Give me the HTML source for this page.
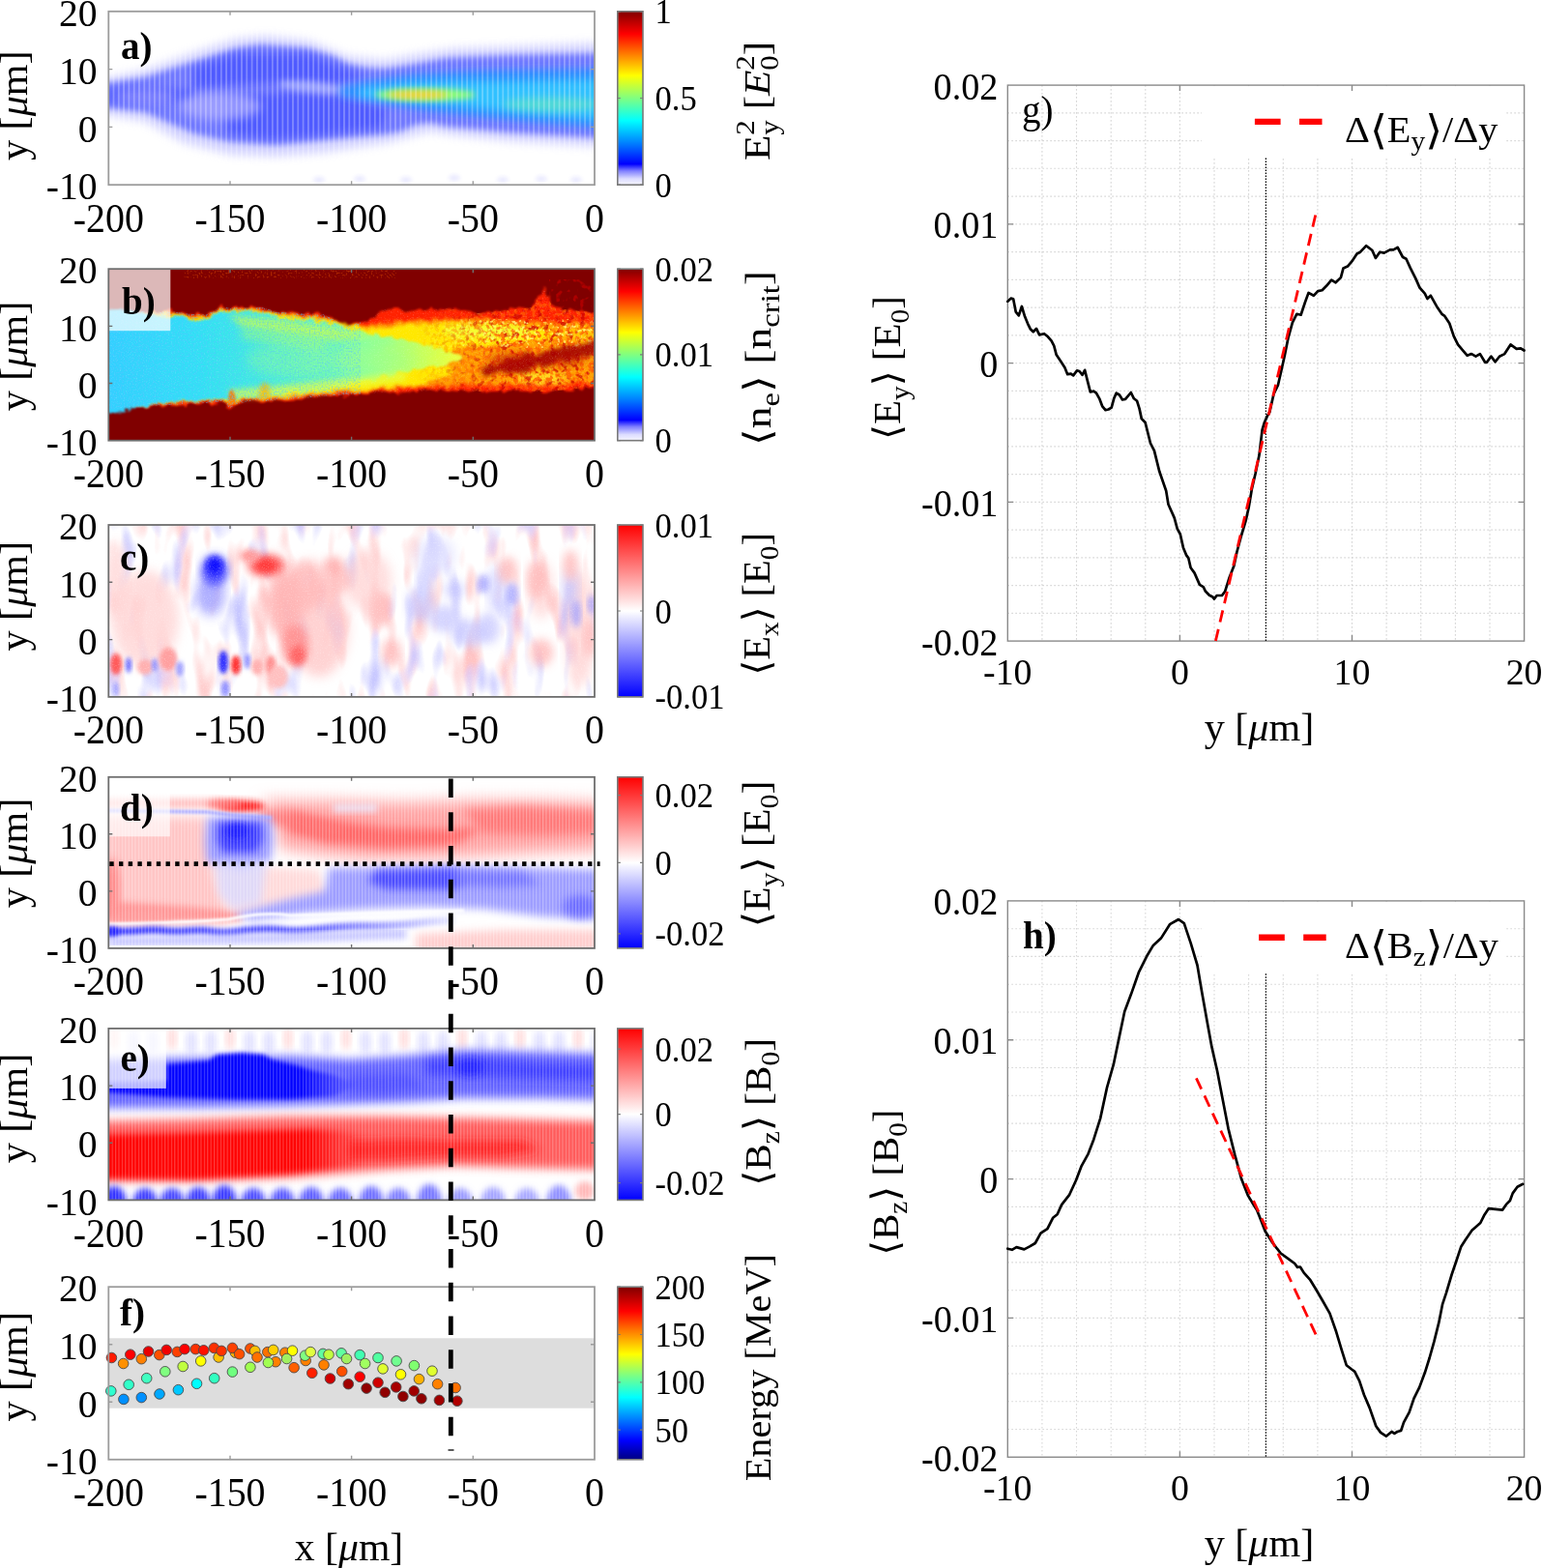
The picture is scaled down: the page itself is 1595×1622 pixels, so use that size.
<!DOCTYPE html>
<html><head><meta charset="utf-8"><style>
html,body{margin:0;padding:0;background:#fff;}
svg{display:block;}
text{font-family:'Liberation Serif','DejaVu Serif',serif;fill:#000;}
</style></head><body>
<svg width="1595" height="1622" viewBox="0 0 1595 1622">
<defs><linearGradient id="gjetw" x1="0" y1="1" x2="0" y2="0"><stop offset="0" stop-color="#f6f6ff"/><stop offset="0.035" stop-color="#dcdcff"/><stop offset="0.08" stop-color="#8080ff"/><stop offset="0.12" stop-color="#0000ff"/><stop offset="0.24" stop-color="#0080ff"/><stop offset="0.37" stop-color="#00ffff"/><stop offset="0.5" stop-color="#80ff80"/><stop offset="0.63" stop-color="#ffff00"/><stop offset="0.75" stop-color="#ff8000"/><stop offset="0.87" stop-color="#ff0000"/><stop offset="1" stop-color="#800000"/></linearGradient><linearGradient id="gbwr" x1="0" y1="1" x2="0" y2="0"><stop offset="0" stop-color="#0000ff"/><stop offset="0.5" stop-color="#ffffff"/><stop offset="1" stop-color="#ff0000"/></linearGradient><linearGradient id="gjet" x1="0" y1="1" x2="0" y2="0"><stop offset="0" stop-color="#000080"/><stop offset="0.11" stop-color="#0000ff"/><stop offset="0.36" stop-color="#00ffff"/><stop offset="0.49" stop-color="#80ff80"/><stop offset="0.61" stop-color="#ffff00"/><stop offset="0.74" stop-color="#ff8000"/><stop offset="0.86" stop-color="#ff0000"/><stop offset="1" stop-color="#800000"/></linearGradient><filter id="bl1" x="-20%" y="-50%" width="140%" height="200%"><feGaussianBlur stdDeviation="1"/></filter><filter id="bl2" x="-20%" y="-50%" width="140%" height="200%"><feGaussianBlur stdDeviation="2"/></filter><filter id="bl3" x="-20%" y="-50%" width="140%" height="200%"><feGaussianBlur stdDeviation="3"/></filter><filter id="bl4" x="-20%" y="-50%" width="140%" height="200%"><feGaussianBlur stdDeviation="4"/></filter><filter id="bl5" x="-20%" y="-50%" width="140%" height="200%"><feGaussianBlur stdDeviation="5"/></filter><filter id="bl6" x="-20%" y="-50%" width="140%" height="200%"><feGaussianBlur stdDeviation="6"/></filter><filter id="bl8" x="-20%" y="-50%" width="140%" height="200%"><feGaussianBlur stdDeviation="8"/></filter><filter id="bl10" x="-20%" y="-50%" width="140%" height="200%"><feGaussianBlur stdDeviation="10"/></filter><clipPath id="cpa"><rect x="112.3" y="11.8" width="502.7" height="179.4"/></clipPath><clipPath id="cpb"><rect x="112.3" y="278.2" width="502.7" height="177.5"/></clipPath><clipPath id="cpc"><rect x="112.3" y="543.0" width="502.7" height="177.9"/></clipPath><clipPath id="cpd"><rect x="112.3" y="803.8" width="502.7" height="177.1"/></clipPath><clipPath id="cpe"><rect x="112.3" y="1063.9" width="502.7" height="177.5"/></clipPath><clipPath id="cpf"><rect x="112.3" y="1331.2" width="502.7" height="178.6"/></clipPath><filter id="grainb" x="0" y="0" width="100%" height="100%"><feTurbulence type="fractalNoise" baseFrequency="0.45" numOctaves="2" seed="7"/><feColorMatrix type="matrix" values="0 0 0 0 0.5 0 0 0 0 0 0 0 0 0 0 4 0 0 0 -2.1"/></filter><filter id="grainy" x="0" y="0" width="100%" height="100%"><feTurbulence type="fractalNoise" baseFrequency="0.5" numOctaves="2" seed="11"/><feColorMatrix type="matrix" values="0 0 0 0 1 0 0 0 0 0.95 0 0 0 0 0.1 4 0 0 0 -2.2"/></filter><filter id="grainr" x="0" y="0" width="100%" height="100%"><feTurbulence type="fractalNoise" baseFrequency="0.5" numOctaves="2" seed="3"/><feColorMatrix type="matrix" values="0 0 0 0 1 0 0 0 0 0.15 0 0 0 0 0 4 0 0 0 -2.0"/></filter><filter id="grainw" x="0" y="0" width="100%" height="100%"><feTurbulence type="fractalNoise" baseFrequency="0.7" numOctaves="1" seed="21"/><feColorMatrix type="matrix" values="0 0 0 0 1 0 0 0 0 1 0 0 0 0 1 3 0 0 0 -1.6"/></filter><filter id="rough" x="-5%" y="-20%" width="110%" height="140%"><feTurbulence type="fractalNoise" baseFrequency="0.12" numOctaves="3" seed="4" result="t"/><feDisplacementMap in="SourceGraphic" in2="t" scale="9" xChannelSelector="R" yChannelSelector="G" result="d"/><feGaussianBlur in="d" stdDeviation="0.8"/></filter><filter id="roughb" x="-5%" y="-20%" width="110%" height="140%"><feTurbulence type="fractalNoise" baseFrequency="0.1" numOctaves="3" seed="9" result="t"/><feDisplacementMap in="SourceGraphic" in2="t" scale="12" xChannelSelector="R" yChannelSelector="G" result="d"/><feGaussianBlur in="d" stdDeviation="2"/></filter><pattern id="vstripe" x="0" y="0" width="5.3" height="10" patternUnits="userSpaceOnUse"><rect x="0" y="0" width="1.8" height="10" fill="#fff"/></pattern><pattern id="vstripe2" x="0" y="0" width="3.4" height="10" patternUnits="userSpaceOnUse"><rect x="0" y="0" width="1.2" height="10" fill="#fff"/></pattern><clipPath id="cpbplume"><path d="M100.0 322.0 L174.0 322.0 L200.0 325.0 L214.0 325.0 L228.0 318.0 L272.0 318.0 L289.0 323.0 L334.0 325.0 L359.0 337.0 L382.0 331.0 L398.0 319.0 L430.0 322.0 L462.0 319.0 L494.0 324.0 L526.0 321.0 L550.0 318.0 L558.0 306.0 L563.0 298.0 L567.0 308.0 L572.0 318.0 L590.0 321.0 L625.0 324.0 L625.0 398.0 L590.0 403.0 L560.0 405.0 L526.0 403.0 L494.0 405.0 L462.0 403.0 L430.0 405.0 L398.0 406.0 L334.0 410.0 L275.0 415.0 L262.0 414.0 L245.0 418.0 L238.0 423.0 L232.0 416.0 L174.0 419.0 L100.0 424.0Z" fill="#000" /></clipPath><linearGradient id="fadeR" x1="430" y1="0" x2="520" y2="0" gradientUnits="userSpaceOnUse"><stop offset="0" stop-color="#000"/><stop offset="1" stop-color="#fff"/></linearGradient><mask id="mright" maskUnits="userSpaceOnUse" x="100" y="270" width="530" height="200"><rect x="100" y="270" width="530" height="200" fill="url(#fadeR)"/></mask><filter id="mottR" x="0" y="0" width="100%" height="100%"><feTurbulence type="fractalNoise" baseFrequency="0.22" numOctaves="2" seed="3"/><feColorMatrix type="matrix" values="0 0 0 0 1 0 0 0 0 0.1 0 0 0 0 0 5 0 0 0 -2.2"/></filter><filter id="mottD" x="0" y="0" width="100%" height="100%"><feTurbulence type="fractalNoise" baseFrequency="0.16" numOctaves="2" seed="8"/><feColorMatrix type="matrix" values="0 0 0 0 0.6 0 0 0 0 0 0 0 0 0 0 6 0 0 0 -3.4"/></filter><filter id="mottY" x="0" y="0" width="100%" height="100%"><feTurbulence type="fractalNoise" baseFrequency="0.25" numOctaves="2" seed="13"/><feColorMatrix type="matrix" values="0 0 0 0 1 0 0 0 0 1 0 0 0 0 0.2 5 0 0 0 -2.8"/></filter><linearGradient id="bcore" x1="112" y1="0" x2="470" y2="0" gradientUnits="userSpaceOnUse"><stop offset="0" stop-color="#30d0ff"/><stop offset="0.25" stop-color="#30e0f6"/><stop offset="0.5" stop-color="#48eed8"/><stop offset="0.75" stop-color="#88ffa0"/><stop offset="0.9" stop-color="#c4ff60"/><stop offset="1" stop-color="#e8ff40"/></linearGradient><filter id="grainb2" x="0" y="0" width="100%" height="100%"><feTurbulence type="fractalNoise" baseFrequency="0.6" numOctaves="1" seed="17"/><feColorMatrix type="matrix" values="0 0 0 0 0.1 0 0 0 0 0.55 0 0 0 0 1 4.5 0 0 0 -2.1"/></filter><filter id="texRB" x="0" y="0" width="100%" height="100%"><feTurbulence type="fractalNoise" baseFrequency="0.05 0.018" numOctaves="2" seed="2" result="t"/><feColorMatrix in="t" type="matrix" values="0 0 0 0 1 0 0 0 0 0.3 0 0 0 0 0.3 3.2 0 0 0 -1.6" result="r"/><feColorMatrix in="t" type="matrix" values="0 0 0 0 0.3 0 0 0 0 0.3 0 0 0 0 1 0 3.2 0 0 -1.75" result="bb"/><feMerge><feMergeNode in="r"/><feMergeNode in="bb"/></feMerge></filter><linearGradient id="dline" x1="112" y1="0" x2="470" y2="0" gradientUnits="userSpaceOnUse"><stop offset="0" stop-color="#3a3aff"/><stop offset="0.55" stop-color="#5a5aff"/><stop offset="0.8" stop-color="#a0a0ff"/><stop offset="1" stop-color="#e8e8ff"/></linearGradient><linearGradient id="eblue" x1="100" y1="0" x2="370" y2="0" gradientUnits="userSpaceOnUse"><stop offset="0" stop-color="#0000ff"/><stop offset="0.78" stop-color="#0000ff"/><stop offset="1" stop-color="#0000ff" stop-opacity="0"/></linearGradient><linearGradient id="ered" x1="100" y1="0" x2="380" y2="0" gradientUnits="userSpaceOnUse"><stop offset="0" stop-color="#ff0000"/><stop offset="0.78" stop-color="#ff0000"/><stop offset="1" stop-color="#ff0000" stop-opacity="0"/></linearGradient></defs>
<rect width="1595" height="1622" fill="#fff"/>
<g clip-path="url(#cpa)"><path d="M105.0 82.0 L150.0 72.0 L206.0 52.0 L244.0 40.0 L275.0 37.0 L320.0 42.0 L360.0 58.0 L398.0 62.0 L430.0 56.0 L470.0 50.0 L526.0 48.0 L622.0 44.0 L622.0 152.0 L526.0 146.0 L470.0 140.0 L445.0 136.0 L430.0 140.0 L400.0 148.0 L334.0 158.0 L286.0 162.0 L238.0 160.0 L190.0 148.0 L150.0 126.0 L105.0 118.0Z" fill="#c4c4ff" filter="url(#bl5)" opacity="0.75"/><path d="M105.0 87.0 L150.0 80.0 L180.0 70.0 L206.0 62.0 L244.0 50.0 L270.0 46.0 L318.0 50.0 L345.0 58.0 L360.0 66.0 L380.0 70.0 L398.0 71.0 L430.0 66.0 L462.0 60.0 L526.0 57.0 L622.0 55.0 L622.0 143.0 L526.0 137.0 L462.0 131.0 L445.0 127.0 L430.0 129.0 L414.0 136.0 L398.0 139.0 L366.0 142.0 L334.0 145.0 L286.0 150.0 L238.0 147.0 L200.0 138.0 L170.0 125.0 L150.0 116.0 L105.0 111.0Z" fill="#7078ff" filter="url(#bl3)"/><path d="M200.0 70.0 L244.0 56.0 L318.0 56.0 L360.0 72.0 L380.0 80.0 L350.0 86.0 L300.0 84.0 L240.0 88.0 L200.0 92.0Z" fill="#4a55ff" filter="url(#bl4)" opacity="0.85"/><path d="M230.0 100.0 L300.0 96.0 L360.0 100.0 L400.0 112.0 L395.0 132.0 L330.0 140.0 L280.0 144.0 L235.0 138.0Z" fill="#4a55ff" filter="url(#bl4)" opacity="0.85"/><path d="M112.0 92.0 L160.0 90.0 L200.0 92.0 L200.0 104.0 L160.0 106.0 L112.0 106.0Z" fill="#5862ff" filter="url(#bl3)" opacity="0.8"/><path d="M290.0 84.0 L320.0 84.0 L345.0 88.0 L365.0 94.0 L340.0 97.0 L310.0 94.0 L290.0 90.0Z" fill="#a8b0ff" filter="url(#bl3)" opacity="0.8"/><ellipse cx="228" cy="110" rx="42" ry="14" fill="#a8a8ff" filter="url(#bl5)" opacity="0.75"/><ellipse cx="150" cy="100" rx="30" ry="8" fill="#9a9aff" filter="url(#bl4)" opacity="0.5"/><path d="M352.0 90.0 L380.0 84.0 L430.0 77.0 L500.0 73.0 L560.0 72.0 L622.0 71.0 L622.0 132.0 L560.0 127.0 L500.0 121.0 L440.0 114.0 L380.0 104.0 L352.0 100.0Z" fill="#2a90ff" filter="url(#bl4)"/><path d="M372.0 92.0 L420.0 86.0 L470.0 84.0 L530.0 84.0 L622.0 82.0 L622.0 124.0 L540.0 117.0 L470.0 109.0 L420.0 104.0 L372.0 100.0Z" fill="#30d0ff" filter="url(#bl4)" opacity="0.75"/><ellipse cx="440" cy="98" rx="52" ry="6.5" fill="#90ff70" filter="url(#bl3)"/><ellipse cx="432" cy="98" rx="32" ry="4.2" fill="#ffc830" filter="url(#bl3)" opacity="0.9"/><ellipse cx="570" cy="108" rx="50" ry="7" fill="#70f0b0" filter="url(#bl4)" opacity="0.55"/><rect x="112.3" y="11.8" width="502.7" height="179.4" fill="url(#vstripe)" opacity="0.28"/><ellipse cx="330" cy="186" rx="6" ry="3" fill="#d8d8ff" filter="url(#bl2)" opacity="0.6"/><ellipse cx="372" cy="185" rx="6" ry="3" fill="#d8d8ff" filter="url(#bl2)" opacity="0.6"/><ellipse cx="420" cy="186" rx="6" ry="3" fill="#d8d8ff" filter="url(#bl2)" opacity="0.6"/><ellipse cx="470" cy="184" rx="6" ry="3" fill="#d8d8ff" filter="url(#bl2)" opacity="0.6"/><ellipse cx="520" cy="186" rx="6" ry="3" fill="#d8d8ff" filter="url(#bl2)" opacity="0.6"/><ellipse cx="560" cy="185" rx="6" ry="3" fill="#d8d8ff" filter="url(#bl2)" opacity="0.6"/><ellipse cx="596" cy="186" rx="6" ry="3" fill="#d8d8ff" filter="url(#bl2)" opacity="0.6"/></g><g clip-path="url(#cpb)"><rect x="112.3" y="278.2" width="502.7" height="177.5" fill="#800000"/><g filter="url(#rough)"><path d="M100.0 322.0 L174.0 322.0 L200.0 325.0 L214.0 325.0 L228.0 318.0 L272.0 318.0 L289.0 323.0 L334.0 325.0 L359.0 337.0 L382.0 331.0 L398.0 319.0 L430.0 322.0 L462.0 319.0 L494.0 324.0 L526.0 321.0 L550.0 318.0 L558.0 306.0 L563.0 298.0 L567.0 308.0 L572.0 318.0 L590.0 321.0 L625.0 324.0 L625.0 398.0 L590.0 403.0 L560.0 405.0 L526.0 403.0 L494.0 405.0 L462.0 403.0 L430.0 405.0 L398.0 406.0 L334.0 410.0 L275.0 415.0 L262.0 414.0 L245.0 418.0 L238.0 423.0 L232.0 416.0 L174.0 419.0 L100.0 424.0Z" fill="#ff2200" /><path d="M100.0 324.0 L174.0 324.0 L200.0 327.0 L214.0 327.0 L228.0 320.0 L272.0 320.0 L289.0 325.0 L334.0 328.0 L359.0 340.0 L382.0 336.0 L420.0 332.0 L470.0 330.0 L530.0 332.0 L625.0 336.0 L625.0 394.0 L560.0 398.0 L500.0 398.0 L440.0 400.0 L398.0 403.0 L334.0 407.0 L275.0 412.0 L262.0 411.0 L245.0 415.0 L238.0 420.0 L232.0 413.0 L174.0 417.0 L100.0 422.0Z" fill="#ffa000" filter="url(#bl1)"/><path d="M100.0 325.0 L174.0 325.0 L200.0 328.0 L214.0 328.0 L228.0 321.0 L272.0 321.0 L289.0 326.0 L334.0 330.0 L380.0 340.0 L430.0 336.0 L470.0 334.0 L545.0 337.0 L590.0 345.0 L560.0 352.0 L520.0 356.0 L470.0 360.0 L455.0 372.0 L470.0 385.0 L440.0 396.0 L398.0 400.0 L334.0 405.0 L275.0 410.0 L262.0 409.0 L245.0 413.0 L238.0 417.0 L232.0 411.0 L174.0 415.0 L100.0 420.0Z" fill="#ffe800" filter="url(#bl1)"/><ellipse cx="505" cy="343" rx="48" ry="7" fill="#f4ff30" filter="url(#bl3)"/><ellipse cx="560" cy="390" rx="25" ry="7" fill="#ffe020" filter="url(#bl3)" opacity="0.9"/><ellipse cx="600" cy="345" rx="18" ry="8" fill="#ffd000" filter="url(#bl3)" opacity="0.8"/></g><g clip-path="url(#cpbplume)"><g mask="url(#mright)"><rect x="420" y="310" width="205" height="100" fill="#fff" filter="url(#mottR)" opacity="0.8"/><rect x="420" y="310" width="205" height="100" fill="#fff" filter="url(#mottD)" opacity="0.7"/><rect x="420" y="330" width="205" height="30" fill="#fff" filter="url(#mottY)" opacity="0.8"/></g></g><path d="M498.0 380.0 L540.0 369.0 L590.0 357.0 L625.0 354.0 L625.0 366.0 L590.0 372.0 L545.0 383.0 L503.0 388.0Z" fill="#a00000" filter="url(#roughb)" opacity="0.85"/><ellipse cx="530" cy="374" rx="24" ry="8" fill="#b00000" filter="url(#bl4)" opacity="0.55"/><ellipse cx="585" cy="372" rx="20" ry="6" fill="#b00000" filter="url(#bl4)" opacity="0.5"/><g filter="url(#rough)"><path d="M100.0 327.0C112.3 311.5 157.3 326.5 174.0 327.0C190.7 327.5 193.3 329.5 200.0 330.0C206.7 330.5 209.3 331.2 214.0 330.0C218.7 328.8 218.3 324.2 228.0 323.0C237.7 321.8 261.8 322.0 272.0 323.0C282.2 324.0 278.7 327.3 289.0 329.0C299.3 330.7 318.8 330.3 334.0 333.0C349.2 335.7 364.0 341.5 380.0 345.0C396.0 348.5 415.8 350.8 430.0 354.0C444.2 357.2 457.0 361.5 465.0 364.0C473.0 366.5 478.0 367.2 478.0 369.0C478.0 370.8 473.0 372.7 465.0 375.0C457.0 377.3 444.2 379.8 430.0 383.0C415.8 386.2 396.0 390.8 380.0 394.0C364.0 397.2 350.7 399.5 334.0 402.0C317.3 404.5 295.7 407.3 280.0 409.0C264.3 410.7 257.7 410.8 240.0 412.0C222.3 413.2 197.3 414.7 174.0 416.0C150.7 417.3 112.3 434.8 100.0 420.0C87.7 405.2 87.7 342.5 100.0 327.0Z" fill="url(#bcore)" /></g><path d="M236.0 326.0 L290.0 330.0 L340.0 338.0 L392.0 348.0 L350.0 352.0 L300.0 346.0 L250.0 338.0Z" fill="#c8ff50" filter="url(#bl3)" opacity="0.75"/><path d="M250.0 340.0 L300.0 345.0 L345.0 352.0 L330.0 362.0 L290.0 356.0 L250.0 350.0Z" fill="#a8ff70" filter="url(#bl4)" opacity="0.6"/><path d="M236.0 404.0 L300.0 398.0 L360.0 392.0 L420.0 384.0 L420.0 394.0 L360.0 402.0 L300.0 409.0 L240.0 412.0Z" fill="#e8ff40" filter="url(#bl3)" opacity="0.8"/><ellipse cx="300" cy="372" rx="45" ry="18" fill="#98ff90" filter="url(#bl6)" opacity="0.4"/><ellipse cx="385" cy="372" rx="40" ry="15" fill="#a8ff80" filter="url(#bl6)" opacity="0.45"/><path d="M235.0 418.0 L237.0 406.0 L240.0 402.0 L243.0 408.0 L245.0 418.0Z" fill="#ff7000" filter="url(#bl1)" opacity="0.8"/><path d="M267.0 414.0 L269.0 400.0 L273.0 395.0 L278.0 398.0 L280.0 412.0Z" fill="#ffb000" filter="url(#bl2)" opacity="0.7"/><g clip-path="url(#cpbplume)"><rect x="112.3" y="278.2" width="502.7" height="177.5" fill="#fff" filter="url(#grainw)" opacity="0.2"/><rect x="112.3" y="278.2" width="260" height="177.5" fill="#fff" filter="url(#grainb2)" opacity="0.45"/></g><ellipse cx="300" cy="283" rx="110" ry="5" fill="#fff" filter="url(#grainr)" opacity="0.35"/><ellipse cx="590" cy="305" rx="22" ry="16" fill="#fff" filter="url(#mottD)" opacity="0.6"/></g><rect x="112.3" y="278.2" width="64" height="64" fill="#fff" opacity="0.72"/><g clip-path="url(#cpc)"><rect x="112.3" y="543.0" width="502.7" height="177.9" fill="#fff" filter="url(#texRB)" opacity="0.55"/><ellipse cx="150" cy="640" rx="35" ry="50" fill="#ffd4d4" filter="url(#bl6)" opacity="0.8"/><ellipse cx="330" cy="650" rx="30" ry="50" fill="#ffc8c8" filter="url(#bl6)" opacity="0.8"/><ellipse cx="380" cy="600" rx="25" ry="30" fill="#ffd0d0" filter="url(#bl6)" opacity="0.7"/><ellipse cx="120" cy="600" rx="12" ry="40" fill="#ffd0d0" filter="url(#bl6)" opacity="0.7"/><ellipse cx="600" cy="650" rx="15" ry="60" fill="#ffcccc" filter="url(#bl6)" opacity="0.7"/><ellipse cx="560" cy="610" rx="12" ry="30" fill="#ffc8c8" filter="url(#bl6)" opacity="0.6"/><ellipse cx="450" cy="575" rx="20" ry="20" fill="#d8d8ff" filter="url(#bl6)" opacity="0.6"/><ellipse cx="515" cy="610" rx="10" ry="25" fill="#c8c8ff" filter="url(#bl6)" opacity="0.7"/><ellipse cx="590" cy="610" rx="8" ry="20" fill="#c0c0ff" filter="url(#bl6)" opacity="0.7"/><ellipse cx="295" cy="625" rx="20" ry="35" fill="#ffb0b0" filter="url(#bl6)" opacity="0.9"/><ellipse cx="320" cy="605" rx="22" ry="25" fill="#ffb8b8" filter="url(#bl6)" opacity="0.8"/><ellipse cx="305" cy="668" rx="14" ry="22" fill="#ff9090" filter="url(#bl4)" opacity="0.9"/><ellipse cx="308" cy="678" rx="8" ry="10" fill="#ff6060" filter="url(#bl3)" opacity="0.9"/><ellipse cx="350" cy="600" rx="14" ry="14" fill="#ffc0c0" filter="url(#bl4)" opacity="0.8"/><ellipse cx="345" cy="585" rx="10" ry="10" fill="#ffa8a8" filter="url(#bl4)" opacity="0.8"/><ellipse cx="218" cy="615" rx="15" ry="22" fill="#a8a8ff" filter="url(#bl6)" opacity="0.9"/><ellipse cx="222" cy="590" rx="14" ry="16" fill="#5050ff" filter="url(#bl4)" opacity="1"/><ellipse cx="222" cy="585" rx="8" ry="9" fill="#1010ff" filter="url(#bl3)" opacity="1"/><ellipse cx="276" cy="585" rx="20" ry="12" fill="#ff7070" filter="url(#bl4)" opacity="1"/><ellipse cx="275" cy="585" rx="11" ry="7" fill="#ff3a3a" filter="url(#bl3)" opacity="1"/><ellipse cx="258" cy="575" rx="10" ry="7" fill="#ff9a9a" filter="url(#bl3)" opacity="1"/><ellipse cx="120" cy="687" rx="6" ry="11" fill="#ff5a5a" filter="url(#bl2)" opacity="1"/><ellipse cx="133" cy="688" rx="3" ry="8" fill="#6a6aff" filter="url(#bl2)" opacity="1"/><ellipse cx="150" cy="690" rx="8" ry="8" fill="#ffb0b0" filter="url(#bl2)" opacity="1"/><ellipse cx="160" cy="688" rx="3" ry="7" fill="#9090ff" filter="url(#bl2)" opacity="1"/><ellipse cx="174" cy="682" rx="9" ry="12" fill="#ffa0a0" filter="url(#bl2)" opacity="1"/><ellipse cx="186" cy="692" rx="4" ry="8" fill="#a0a0ff" filter="url(#bl2)" opacity="1"/><ellipse cx="231" cy="685" rx="5" ry="12" fill="#3030ff" filter="url(#bl2)" opacity="1"/><ellipse cx="244" cy="688" rx="5" ry="10" fill="#ff3030" filter="url(#bl2)" opacity="1"/><ellipse cx="256" cy="684" rx="3" ry="8" fill="#8a8aff" filter="url(#bl2)" opacity="1"/><ellipse cx="266" cy="690" rx="6" ry="8" fill="#ffb0b0" filter="url(#bl2)" opacity="1"/><ellipse cx="280" cy="688" rx="5" ry="10" fill="#ff9090" filter="url(#bl2)" opacity="1"/><ellipse cx="120" cy="713" rx="3" ry="8" fill="#a0a0ff" filter="url(#bl2)" opacity="1"/><ellipse cx="233" cy="712" rx="4" ry="8" fill="#9090ff" filter="url(#bl2)" opacity="1"/><ellipse cx="288" cy="700" rx="10" ry="12" fill="#ffc0c0" filter="url(#bl2)" opacity="1"/><ellipse cx="435" cy="625" rx="14" ry="18" fill="#c4c4ff" filter="url(#bl5)" opacity="0.7"/><ellipse cx="460" cy="640" rx="16" ry="14" fill="#c4c4ff" filter="url(#bl5)" opacity="0.7"/><ellipse cx="485" cy="655" rx="18" ry="14" fill="#c4c4ff" filter="url(#bl5)" opacity="0.7"/><ellipse cx="505" cy="650" rx="12" ry="16" fill="#c4c4ff" filter="url(#bl5)" opacity="0.7"/><ellipse cx="440" cy="600" rx="8" ry="14" fill="#c4c4ff" filter="url(#bl5)" opacity="0.7"/><ellipse cx="470" cy="610" rx="10" ry="10" fill="#c4c4ff" filter="url(#bl5)" opacity="0.7"/><ellipse cx="555" cy="600" rx="10" ry="20" fill="#ffb8b8" filter="url(#bl5)" opacity="0.8"/><ellipse cx="590" cy="585" rx="8" ry="16" fill="#ffb8b8" filter="url(#bl5)" opacity="0.8"/><ellipse cx="610" cy="660" rx="6" ry="20" fill="#ffb8b8" filter="url(#bl5)" opacity="0.8"/><ellipse cx="395" cy="630" rx="10" ry="18" fill="#ffb8b8" filter="url(#bl5)" opacity="0.8"/><ellipse cx="405" cy="675" rx="10" ry="15" fill="#ffb8b8" filter="url(#bl5)" opacity="0.8"/><ellipse cx="560" cy="675" rx="12" ry="14" fill="#ffb8b8" filter="url(#bl5)" opacity="0.8"/><ellipse cx="525" cy="590" rx="10" ry="14" fill="#ffb8b8" filter="url(#bl5)" opacity="0.8"/><ellipse cx="530" cy="615" rx="6" ry="12" fill="#a0a0ff" filter="url(#bl3)" opacity="0.8"/><ellipse cx="500" cy="604" rx="6" ry="10" fill="#a0a0ff" filter="url(#bl3)" opacity="0.8"/><ellipse cx="596" cy="635" rx="5" ry="14" fill="#a0a0ff" filter="url(#bl3)" opacity="0.8"/><ellipse cx="612" cy="625" rx="4" ry="10" fill="#a0a0ff" filter="url(#bl3)" opacity="0.8"/><rect x="112.3" y="543.0" width="502.7" height="177.9" fill="#fff" filter="url(#grainw)" opacity="0.3"/></g><g clip-path="url(#cpd)"><path d="M105.0 843.0 L214.0 845.0 L225.0 890.0 L240.0 940.0 L235.0 955.0 L105.0 958.0Z" fill="#ffc4c4" filter="url(#bl6)"/><path d="M214.0 890.0 L250.0 895.0 L330.0 900.0 L340.0 930.0 L250.0 945.0 L230.0 940.0Z" fill="#ffdada" filter="url(#bl4)"/><ellipse cx="116" cy="920" rx="8" ry="32" fill="#ff8080" filter="url(#bl4)" opacity="0.9"/><path d="M112.0 932.0 L200.0 938.0 L250.0 944.0 L250.0 953.0 L200.0 953.0 L112.0 955.0Z" fill="#ff8c8c" filter="url(#bl3)" opacity="0.85"/><ellipse cx="150" cy="948" rx="30" ry="6" fill="#ff9a9a" filter="url(#bl3)" opacity="0.8"/><path d="M105.0 826.0 L230.0 826.0 L230.0 836.0 L105.0 836.0Z" fill="#ffc0c0" filter="url(#bl3)"/><path d="M270.0 828.0 L340.0 828.0 L420.0 830.0 L500.0 828.0 L560.0 828.0 L625.0 830.0 L625.0 880.0 L560.0 882.0 L500.0 885.0 L440.0 889.0 L380.0 889.0 L330.0 884.0 L290.0 878.0 L282.0 845.0Z" fill="#ffa0a0" filter="url(#bl8)"/><path d="M300.0 840.0 L340.0 848.0 L400.0 856.0 L460.0 858.0 L500.0 856.0 L470.0 874.0 L400.0 878.0 L340.0 872.0 L300.0 860.0Z" fill="#ff5a5a" filter="url(#bl5)" opacity="0.85"/><path d="M480.0 838.0 L540.0 834.0 L600.0 838.0 L625.0 840.0 L625.0 862.0 L560.0 864.0 L500.0 862.0Z" fill="#ff6a6a" filter="url(#bl5)" opacity="0.75"/><path d="M345.0 832.0 L390.0 832.0 L390.0 840.0 L345.0 840.0Z" fill="#e8e8ff" filter="url(#bl3)" opacity="0.8"/><path d="M265.0 836.0 L300.0 840.0 L340.0 850.0 L360.0 858.0 L340.0 866.0 L300.0 858.0 L270.0 848.0Z" fill="#ff7070" filter="url(#bl5)" opacity="0.8"/><ellipse cx="250" cy="834" rx="24" ry="6" fill="#ff1a1a" filter="url(#bl3)" opacity="1"/><ellipse cx="232" cy="832" rx="18" ry="5" fill="#ff7070" filter="url(#bl3)" opacity="0.9"/><path d="M112 838.5 L214 840 L240 843 L281 846" stroke="#b4b4ff" stroke-width="4" fill="none" filter="url(#bl1)"/><path d="M214.0 846.0 L281.0 846.0 L283.0 870.0 L280.0 890.0 L250.0 900.0 L214.0 892.0 L212.0 870.0Z" fill="#9a9aff" filter="url(#bl4)"/><path d="M225.0 850.0 L270.0 850.0 L272.0 868.0 L265.0 882.0 L230.0 882.0 L224.0 868.0Z" fill="#3a3aff" filter="url(#bl4)"/><ellipse cx="245" cy="860" rx="12" ry="8" fill="#1a1aff" filter="url(#bl3)" opacity="1"/><path d="M222.0 892.0 L276.0 892.0 L270.0 935.0 L240.0 940.0 L226.0 925.0Z" fill="#d8d8ff" filter="url(#bl4)" opacity="0.8"/><path d="M240.0 946.0 L300.0 930.0 L336.0 922.0 L340.0 898.0 L420.0 897.0 L480.0 896.0 L560.0 898.0 L625.0 900.0 L625.0 952.0 L560.0 948.0 L500.0 940.0 L440.0 938.0 L380.0 940.0 L320.0 944.0 L260.0 952.0Z" fill="#9c9cff" filter="url(#bl4)"/><path d="M390.0 900.0 L470.0 898.0 L480.0 912.0 L470.0 920.0 L400.0 920.0 L380.0 912.0Z" fill="#4a4aff" filter="url(#bl4)"/><path d="M470.0 900.0 L540.0 902.0 L560.0 915.0 L520.0 918.0 L470.0 916.0Z" fill="#6a6aff" filter="url(#bl4)" opacity="0.8"/><ellipse cx="600" cy="938" rx="18" ry="12" fill="#6060ff" filter="url(#bl4)" opacity="0.8"/><path d="M112 956 C160 955 200 954 236 951 C262 945 280 944 300 947 C350 946 400 944 480 942" stroke="#fff" stroke-width="3" fill="none" filter="url(#bl1)"/><path d="M112 963 C140 966 150 960 170 963 S200 960 220 964 S260 958 290 962 S340 957 380 958 S440 952 470 952" stroke="url(#dline)" stroke-width="8" fill="none" filter="url(#bl2)"/><path d="M112 974 C200 974 300 970 420 966" stroke="#c4c4ff" stroke-width="10" fill="none" filter="url(#bl3)"/><ellipse cx="116" cy="964" rx="8" ry="5" fill="#2020ff" filter="url(#bl2)" opacity="0.9"/><path d="M430.0 966.0 L520.0 962.0 L625.0 962.0 L625.0 985.0 L430.0 985.0Z" fill="#ffcece" filter="url(#bl4)"/><rect x="112.3" y="803.8" width="502.7" height="177.1" fill="url(#vstripe2)" opacity="0.3"/></g><rect x="112.3" y="803.8" width="63.5" height="61.5" fill="#fff" opacity="0.65"/><g clip-path="url(#cpe)"><ellipse cx="118" cy="1074" rx="5" ry="12" fill="#ffd4d4" filter="url(#bl3)" opacity="0.8"/><ellipse cx="138" cy="1078" rx="6" ry="12" fill="#d4d4ff" filter="url(#bl3)" opacity="0.7"/><ellipse cx="158" cy="1078" rx="6" ry="12" fill="#d4d4ff" filter="url(#bl3)" opacity="0.7"/><ellipse cx="178" cy="1074" rx="5" ry="12" fill="#ffd4d4" filter="url(#bl3)" opacity="0.8"/><ellipse cx="198" cy="1078" rx="6" ry="12" fill="#d4d4ff" filter="url(#bl3)" opacity="0.7"/><ellipse cx="218" cy="1078" rx="6" ry="12" fill="#d4d4ff" filter="url(#bl3)" opacity="0.7"/><ellipse cx="238" cy="1074" rx="5" ry="12" fill="#ffd4d4" filter="url(#bl3)" opacity="0.8"/><ellipse cx="258" cy="1078" rx="6" ry="12" fill="#d4d4ff" filter="url(#bl3)" opacity="0.7"/><ellipse cx="278" cy="1078" rx="6" ry="12" fill="#d4d4ff" filter="url(#bl3)" opacity="0.7"/><ellipse cx="298" cy="1074" rx="5" ry="12" fill="#ffd4d4" filter="url(#bl3)" opacity="0.8"/><ellipse cx="318" cy="1078" rx="6" ry="12" fill="#d4d4ff" filter="url(#bl3)" opacity="0.7"/><ellipse cx="338" cy="1078" rx="6" ry="12" fill="#d4d4ff" filter="url(#bl3)" opacity="0.7"/><ellipse cx="358" cy="1074" rx="5" ry="12" fill="#ffd4d4" filter="url(#bl3)" opacity="0.8"/><ellipse cx="378" cy="1078" rx="6" ry="12" fill="#d4d4ff" filter="url(#bl3)" opacity="0.7"/><ellipse cx="398" cy="1078" rx="6" ry="12" fill="#d4d4ff" filter="url(#bl3)" opacity="0.7"/><ellipse cx="418" cy="1074" rx="5" ry="12" fill="#ffd4d4" filter="url(#bl3)" opacity="0.8"/><ellipse cx="438" cy="1078" rx="6" ry="12" fill="#d4d4ff" filter="url(#bl3)" opacity="0.7"/><ellipse cx="458" cy="1078" rx="6" ry="12" fill="#d4d4ff" filter="url(#bl3)" opacity="0.7"/><ellipse cx="478" cy="1074" rx="5" ry="12" fill="#ffd4d4" filter="url(#bl3)" opacity="0.8"/><ellipse cx="498" cy="1078" rx="6" ry="12" fill="#d4d4ff" filter="url(#bl3)" opacity="0.7"/><ellipse cx="518" cy="1078" rx="6" ry="12" fill="#d4d4ff" filter="url(#bl3)" opacity="0.7"/><ellipse cx="538" cy="1074" rx="5" ry="12" fill="#ffd4d4" filter="url(#bl3)" opacity="0.8"/><ellipse cx="558" cy="1078" rx="6" ry="12" fill="#d4d4ff" filter="url(#bl3)" opacity="0.7"/><ellipse cx="578" cy="1078" rx="6" ry="12" fill="#d4d4ff" filter="url(#bl3)" opacity="0.7"/><ellipse cx="598" cy="1074" rx="5" ry="12" fill="#ffd4d4" filter="url(#bl3)" opacity="0.8"/><ellipse cx="618" cy="1078" rx="6" ry="12" fill="#d4d4ff" filter="url(#bl3)" opacity="0.7"/><path d="M105.0 1096.0 L200.0 1094.0 L300.0 1092.0 L360.0 1096.0 L420.0 1092.0 L480.0 1086.0 L560.0 1088.0 L625.0 1090.0 L625.0 1138.0 L560.0 1136.0 L480.0 1136.0 L420.0 1140.0 L360.0 1142.0 L300.0 1144.0 L200.0 1146.0 L105.0 1146.0Z" fill="#6464ff" filter="url(#bl5)"/><path d="M440.0 1096.0 L500.0 1094.0 L560.0 1100.0 L620.0 1102.0 L620.0 1118.0 L560.0 1116.0 L500.0 1114.0 L440.0 1112.0Z" fill="#3434ff" filter="url(#bl5)" opacity="0.8"/><path d="M360.0 1112.0 L420.0 1110.0 L440.0 1125.0 L400.0 1132.0 L360.0 1130.0Z" fill="#4a4aff" filter="url(#bl4)" opacity="0.8"/><ellipse cx="486" cy="1104" rx="14" ry="8" fill="#1a1aff" filter="url(#bl4)" opacity="0.9"/><path d="M100.0 1120.0 L172.0 1118.0 L172.0 1101.0 L216.0 1097.0 L224.0 1091.0 L250.0 1089.0 L273.0 1091.0 L281.0 1096.0 L306.0 1102.0 L322.0 1107.0 L345.0 1112.0 L370.0 1122.0 L345.0 1134.0 L300.0 1137.0 L240.0 1137.0 L172.0 1135.0 L100.0 1129.0Z" fill="url(#eblue)" filter="url(#bl2)"/><path d="M105.0 1160.0 L200.0 1158.0 L300.0 1155.0 L400.0 1155.0 L500.0 1157.0 L625.0 1160.0 L625.0 1210.0 L540.0 1208.0 L470.0 1206.0 L400.0 1210.0 L300.0 1218.0 L200.0 1222.0 L105.0 1222.0Z" fill="#ff5a5a" filter="url(#bl5)"/><path d="M360.0 1180.0 L420.0 1178.0 L460.0 1180.0 L540.0 1180.0 L560.0 1190.0 L520.0 1196.0 L460.0 1196.0 L400.0 1200.0 L360.0 1200.0Z" fill="#ff1c1c" filter="url(#bl5)" opacity="0.9"/><path d="M100.0 1174.0 L200.0 1172.0 L260.0 1170.0 L320.0 1168.0 L380.0 1172.0 L380.0 1205.0 L300.0 1214.0 L200.0 1220.0 L100.0 1219.0Z" fill="url(#ered)" filter="url(#bl3)"/><ellipse cx="118" cy="1245" rx="13" ry="18" fill="#3030ff" filter="url(#bl3)" opacity="1"/><ellipse cx="150" cy="1245" rx="13" ry="16" fill="#4040ff" filter="url(#bl3)" opacity="1"/><ellipse cx="178" cy="1245" rx="13" ry="16" fill="#4848ff" filter="url(#bl3)" opacity="1"/><ellipse cx="205" cy="1245" rx="13" ry="17" fill="#4040ff" filter="url(#bl3)" opacity="1"/><ellipse cx="232" cy="1245" rx="13" ry="19" fill="#3a3aff" filter="url(#bl3)" opacity="1"/><ellipse cx="262" cy="1245" rx="13" ry="16" fill="#5050ff" filter="url(#bl3)" opacity="1"/><ellipse cx="292" cy="1245" rx="13" ry="16" fill="#5a5aff" filter="url(#bl3)" opacity="1"/><ellipse cx="322" cy="1245" rx="13" ry="17" fill="#6060ff" filter="url(#bl3)" opacity="1"/><ellipse cx="352" cy="1245" rx="13" ry="16" fill="#6a6aff" filter="url(#bl3)" opacity="1"/><ellipse cx="384" cy="1245" rx="13" ry="18" fill="#7070ff" filter="url(#bl3)" opacity="1"/><ellipse cx="412" cy="1245" rx="13" ry="16" fill="#8080ff" filter="url(#bl3)" opacity="1"/><ellipse cx="444" cy="1245" rx="13" ry="20" fill="#7878ff" filter="url(#bl3)" opacity="1"/><ellipse cx="476" cy="1245" rx="13" ry="16" fill="#9a9aff" filter="url(#bl3)" opacity="1"/><ellipse cx="510" cy="1245" rx="13" ry="17" fill="#a4a4ff" filter="url(#bl3)" opacity="1"/><ellipse cx="545" cy="1245" rx="13" ry="16" fill="#a8a8ff" filter="url(#bl3)" opacity="1"/><ellipse cx="578" cy="1245" rx="13" ry="19" fill="#9090ff" filter="url(#bl3)" opacity="1"/><ellipse cx="605" cy="1232" rx="10" ry="10" fill="#ffb0b0" filter="url(#bl3)" opacity="0.9"/><rect x="112.3" y="1063.9" width="502.7" height="177.5" fill="url(#vstripe2)" opacity="0.25"/></g><rect x="112.3" y="1063.9" width="59.5" height="62" fill="#fff" opacity="0.7"/><rect x="112.3" y="1384.3" width="502.7" height="72.4" fill="#dddddd"/><circle cx="115.4" cy="1404.5" r="5.3" fill="#ff1a00" stroke="#4a4a4a" stroke-width="0.9"/><circle cx="127.6" cy="1410.5" r="5.3" fill="#ff9000" stroke="#4a4a4a" stroke-width="0.9"/><circle cx="134.8" cy="1401.2" r="5.3" fill="#ff0000" stroke="#4a4a4a" stroke-width="0.9"/><circle cx="146.3" cy="1405.7" r="5.3" fill="#ff8000" stroke="#4a4a4a" stroke-width="0.9"/><circle cx="153.5" cy="1398" r="5.3" fill="#e80000" stroke="#4a4a4a" stroke-width="0.9"/><circle cx="164.8" cy="1401.6" r="5.3" fill="#ff5000" stroke="#4a4a4a" stroke-width="0.9"/><circle cx="172.2" cy="1396.4" r="5.3" fill="#f00000" stroke="#4a4a4a" stroke-width="0.9"/><circle cx="183.3" cy="1398.4" r="5.3" fill="#ff4000" stroke="#4a4a4a" stroke-width="0.9"/><circle cx="191" cy="1395.6" r="5.3" fill="#ff0000" stroke="#4a4a4a" stroke-width="0.9"/><circle cx="202.3" cy="1395.6" r="5.3" fill="#ff3000" stroke="#4a4a4a" stroke-width="0.9"/><circle cx="210.7" cy="1396.8" r="5.3" fill="#ff1000" stroke="#4a4a4a" stroke-width="0.9"/><circle cx="221.4" cy="1394.4" r="5.3" fill="#ff3000" stroke="#4a4a4a" stroke-width="0.9"/><circle cx="226.1" cy="1404" r="5.3" fill="#ffc000" stroke="#4a4a4a" stroke-width="0.9"/><circle cx="229.1" cy="1397.4" r="5.3" fill="#ff3000" stroke="#4a4a4a" stroke-width="0.9"/><circle cx="243.4" cy="1399.2" r="5.3" fill="#ffb000" stroke="#4a4a4a" stroke-width="0.9"/><circle cx="240.4" cy="1394.4" r="5.3" fill="#ff4000" stroke="#4a4a4a" stroke-width="0.9"/><circle cx="247.6" cy="1400.7" r="5.3" fill="#ff5000" stroke="#4a4a4a" stroke-width="0.9"/><circle cx="258.9" cy="1395" r="5.3" fill="#ff5000" stroke="#4a4a4a" stroke-width="0.9"/><circle cx="263.7" cy="1397.4" r="5.3" fill="#ffc000" stroke="#4a4a4a" stroke-width="0.9"/><circle cx="266" cy="1404" r="5.3" fill="#ff7000" stroke="#4a4a4a" stroke-width="0.9"/><circle cx="276.8" cy="1398.6" r="5.3" fill="#ff7000" stroke="#4a4a4a" stroke-width="0.9"/><circle cx="282.7" cy="1396.4" r="5.3" fill="#ffd000" stroke="#4a4a4a" stroke-width="0.9"/><circle cx="285.1" cy="1408.7" r="5.3" fill="#ff8000" stroke="#4a4a4a" stroke-width="0.9"/><circle cx="294.8" cy="1399.2" r="5.3" fill="#ff8000" stroke="#4a4a4a" stroke-width="0.9"/><circle cx="302.5" cy="1397.2" r="5.3" fill="#ffff00" stroke="#4a4a4a" stroke-width="0.9"/><circle cx="207.7" cy="1407.9" r="5.3" fill="#ffff00" stroke="#4a4a4a" stroke-width="0.9"/><circle cx="189.2" cy="1413.5" r="5.3" fill="#c0ff40" stroke="#4a4a4a" stroke-width="0.9"/><circle cx="170.8" cy="1418.8" r="5.3" fill="#80ff80" stroke="#4a4a4a" stroke-width="0.9"/><circle cx="151.7" cy="1425.7" r="5.3" fill="#40ffc0" stroke="#4a4a4a" stroke-width="0.9"/><circle cx="133.2" cy="1432.3" r="5.3" fill="#30ffc8" stroke="#4a4a4a" stroke-width="0.9"/><circle cx="114.8" cy="1438.9" r="5.3" fill="#30ffd0" stroke="#4a4a4a" stroke-width="0.9"/><circle cx="127.9" cy="1447.4" r="5.3" fill="#0090ff" stroke="#4a4a4a" stroke-width="0.9"/><circle cx="146.3" cy="1445.6" r="5.3" fill="#0090ff" stroke="#4a4a4a" stroke-width="0.9"/><circle cx="165" cy="1442" r="5.3" fill="#00a8ff" stroke="#4a4a4a" stroke-width="0.9"/><circle cx="184.4" cy="1437.7" r="5.3" fill="#00c8ff" stroke="#4a4a4a" stroke-width="0.9"/><circle cx="203.5" cy="1431.3" r="5.3" fill="#00ffff" stroke="#4a4a4a" stroke-width="0.9"/><circle cx="221.7" cy="1425.7" r="5.3" fill="#30ffc0" stroke="#4a4a4a" stroke-width="0.9"/><circle cx="240.4" cy="1419.1" r="5.3" fill="#70ff80" stroke="#4a4a4a" stroke-width="0.9"/><circle cx="258.9" cy="1414.3" r="5.3" fill="#a0ff50" stroke="#4a4a4a" stroke-width="0.9"/><circle cx="277.4" cy="1409.5" r="5.3" fill="#a0ff50" stroke="#4a4a4a" stroke-width="0.9"/><circle cx="296.6" cy="1405.5" r="5.3" fill="#a0f060" stroke="#4a4a4a" stroke-width="0.9"/><circle cx="304.1" cy="1414.7" r="5.3" fill="#ff6000" stroke="#4a4a4a" stroke-width="0.9"/><circle cx="316.2" cy="1407.5" r="5.3" fill="#ff8000" stroke="#4a4a4a" stroke-width="0.9"/><circle cx="315.6" cy="1402.2" r="5.3" fill="#80ff80" stroke="#4a4a4a" stroke-width="0.9"/><circle cx="321.2" cy="1398.6" r="5.3" fill="#e0ff40" stroke="#4a4a4a" stroke-width="0.9"/><circle cx="322.8" cy="1420.3" r="5.3" fill="#ff2000" stroke="#4a4a4a" stroke-width="0.9"/><circle cx="334.1" cy="1400.4" r="5.3" fill="#60ffa0" stroke="#4a4a4a" stroke-width="0.9"/><circle cx="340" cy="1401.2" r="5.3" fill="#c0ff40" stroke="#4a4a4a" stroke-width="0.9"/><circle cx="335" cy="1411.9" r="5.3" fill="#ff8000" stroke="#4a4a4a" stroke-width="0.9"/><circle cx="341.5" cy="1426" r="5.3" fill="#d00000" stroke="#4a4a4a" stroke-width="0.9"/><circle cx="353.1" cy="1399.8" r="5.3" fill="#60ffa0" stroke="#4a4a4a" stroke-width="0.9"/><circle cx="358.5" cy="1405.5" r="5.3" fill="#a0f060" stroke="#4a4a4a" stroke-width="0.9"/><circle cx="353.7" cy="1418.6" r="5.3" fill="#ff5000" stroke="#4a4a4a" stroke-width="0.9"/><circle cx="360.3" cy="1431.7" r="5.3" fill="#a00000" stroke="#4a4a4a" stroke-width="0.9"/><circle cx="372.2" cy="1401.6" r="5.3" fill="#40ffb0" stroke="#4a4a4a" stroke-width="0.9"/><circle cx="377.6" cy="1410.5" r="5.3" fill="#a0ff60" stroke="#4a4a4a" stroke-width="0.9"/><circle cx="372.2" cy="1424.2" r="5.3" fill="#ff0000" stroke="#4a4a4a" stroke-width="0.9"/><circle cx="379.1" cy="1436.1" r="5.3" fill="#900000" stroke="#4a4a4a" stroke-width="0.9"/><circle cx="391" cy="1404.5" r="5.3" fill="#50ffa0" stroke="#4a4a4a" stroke-width="0.9"/><circle cx="396" cy="1415.9" r="5.3" fill="#e0ff30" stroke="#4a4a4a" stroke-width="0.9"/><circle cx="391" cy="1430.2" r="5.3" fill="#d00000" stroke="#4a4a4a" stroke-width="0.9"/><circle cx="398.2" cy="1440.3" r="5.3" fill="#900000" stroke="#4a4a4a" stroke-width="0.9"/><circle cx="410.1" cy="1407.9" r="5.3" fill="#70ff90" stroke="#4a4a4a" stroke-width="0.9"/><circle cx="414.5" cy="1421.8" r="5.3" fill="#ffff00" stroke="#4a4a4a" stroke-width="0.9"/><circle cx="409.7" cy="1434.9" r="5.3" fill="#a80000" stroke="#4a4a4a" stroke-width="0.9"/><circle cx="416.9" cy="1444.5" r="5.3" fill="#900000" stroke="#4a4a4a" stroke-width="0.9"/><circle cx="428.4" cy="1412.6" r="5.3" fill="#80ff70" stroke="#4a4a4a" stroke-width="0.9"/><circle cx="433.5" cy="1426.6" r="5.3" fill="#ffb000" stroke="#4a4a4a" stroke-width="0.9"/><circle cx="428.2" cy="1438.9" r="5.3" fill="#a00000" stroke="#4a4a4a" stroke-width="0.9"/><circle cx="435.9" cy="1446.8" r="5.3" fill="#900000" stroke="#4a4a4a" stroke-width="0.9"/><circle cx="447" cy="1418.2" r="5.3" fill="#e0ff30" stroke="#4a4a4a" stroke-width="0.9"/><circle cx="452.6" cy="1431.7" r="5.3" fill="#ff8000" stroke="#4a4a4a" stroke-width="0.9"/><circle cx="454.4" cy="1448.4" r="5.3" fill="#a00000" stroke="#4a4a4a" stroke-width="0.9"/><circle cx="471.1" cy="1435.5" r="5.3" fill="#ff7000" stroke="#4a4a4a" stroke-width="0.9"/><circle cx="472.9" cy="1449.2" r="5.3" fill="#b00000" stroke="#4a4a4a" stroke-width="0.9"/>
<rect x="112.3" y="11.8" width="502.7" height="179.4" fill="none" stroke="#9c9c9c" stroke-width="1.8"/><path d="M238.0 11.8v4M238.0 191.2v-4M363.6 11.8v4M363.6 191.2v-4M489.3 11.8v4M489.3 191.2v-4M112.3 131.4h4M615.0 131.4h-4M112.3 71.6h4M615.0 71.6h-4" stroke="#9c9c9c" stroke-width="1.4"/><rect x="112.3" y="278.2" width="502.7" height="177.5" fill="none" stroke="#6e6e6e" stroke-width="1.8"/><path d="M238.0 278.2v4M238.0 455.7v-4M363.6 278.2v4M363.6 455.7v-4M489.3 278.2v4M489.3 455.7v-4M112.3 396.5h4M615.0 396.5h-4M112.3 337.4h4M615.0 337.4h-4" stroke="#6e6e6e" stroke-width="1.4"/><rect x="112.3" y="543.0" width="502.7" height="177.9" fill="none" stroke="#6e6e6e" stroke-width="1.8"/><path d="M238.0 543.0v4M238.0 720.9v-4M363.6 543.0v4M363.6 720.9v-4M489.3 543.0v4M489.3 720.9v-4M112.3 661.6h4M615.0 661.6h-4M112.3 602.3h4M615.0 602.3h-4" stroke="#6e6e6e" stroke-width="1.4"/><rect x="112.3" y="803.8" width="502.7" height="177.1" fill="none" stroke="#6e6e6e" stroke-width="1.8"/><path d="M238.0 803.8v4M238.0 980.9v-4M363.6 803.8v4M363.6 980.9v-4M489.3 803.8v4M489.3 980.9v-4M112.3 921.9h4M615.0 921.9h-4M112.3 862.8h4M615.0 862.8h-4" stroke="#6e6e6e" stroke-width="1.4"/><rect x="112.3" y="1063.9" width="502.7" height="177.5" fill="none" stroke="#6e6e6e" stroke-width="1.8"/><path d="M238.0 1063.9v4M238.0 1241.4v-4M363.6 1063.9v4M363.6 1241.4v-4M489.3 1063.9v4M489.3 1241.4v-4M112.3 1182.2h4M615.0 1182.2h-4M112.3 1123.1h4M615.0 1123.1h-4" stroke="#6e6e6e" stroke-width="1.4"/><rect x="112.3" y="1331.2" width="502.7" height="178.6" fill="none" stroke="#9c9c9c" stroke-width="1.8"/><path d="M238.0 1331.2v4M238.0 1509.8v-4M363.6 1331.2v4M363.6 1509.8v-4M489.3 1331.2v4M489.3 1509.8v-4M112.3 1450.3h4M615.0 1450.3h-4M112.3 1390.7h4M615.0 1390.7h-4" stroke="#9c9c9c" stroke-width="1.4"/>
<rect x="638.8" y="11.8" width="26.2" height="179.4" fill="url(#gjetw)" stroke="#7a7a7a" stroke-width="1.6"/><rect x="638.8" y="278.2" width="26.2" height="177.5" fill="url(#gjetw)" stroke="#7a7a7a" stroke-width="1.6"/><rect x="638.8" y="543.0" width="26.2" height="177.9" fill="url(#gbwr)" stroke="#7a7a7a" stroke-width="1.6"/><rect x="638.8" y="803.8" width="26.2" height="177.1" fill="url(#gbwr)" stroke="#7a7a7a" stroke-width="1.6"/><rect x="638.8" y="1063.9" width="26.2" height="177.5" fill="url(#gbwr)" stroke="#7a7a7a" stroke-width="1.6"/><rect x="638.8" y="1331.2" width="26.2" height="178.6" fill="url(#gjet)" stroke="#7a7a7a" stroke-width="1.6"/><path d="M665.0 11.8h-3M638.8 11.8h3" stroke="#7a7a7a" stroke-width="1.2"/><path d="M665.0 101.5h-3M638.8 101.5h3" stroke="#7a7a7a" stroke-width="1.2"/><path d="M665.0 191.2h-3M638.8 191.2h3" stroke="#7a7a7a" stroke-width="1.2"/><path d="M665.0 278.2h-3M638.8 278.2h3" stroke="#7a7a7a" stroke-width="1.2"/><path d="M665.0 366.9h-3M638.8 366.9h3" stroke="#7a7a7a" stroke-width="1.2"/><path d="M665.0 455.7h-3M638.8 455.7h3" stroke="#7a7a7a" stroke-width="1.2"/><path d="M665.0 543.0h-3M638.8 543.0h3" stroke="#7a7a7a" stroke-width="1.2"/><path d="M665.0 632.0h-3M638.8 632.0h3" stroke="#7a7a7a" stroke-width="1.2"/><path d="M665.0 720.9h-3M638.8 720.9h3" stroke="#7a7a7a" stroke-width="1.2"/><path d="M665.0 822.7h-3M638.8 822.7h3" stroke="#7a7a7a" stroke-width="1.2"/><path d="M665.0 892.3h-3M638.8 892.3h3" stroke="#7a7a7a" stroke-width="1.2"/><path d="M665.0 965.8h-3M638.8 965.8h3" stroke="#7a7a7a" stroke-width="1.2"/><path d="M665.0 1085.2h-3M638.8 1085.2h3" stroke="#7a7a7a" stroke-width="1.2"/><path d="M665.0 1152.7h-3M638.8 1152.7h3" stroke="#7a7a7a" stroke-width="1.2"/><path d="M665.0 1223.7h-3M638.8 1223.7h3" stroke="#7a7a7a" stroke-width="1.2"/><path d="M665.0 1331.2h-3M638.8 1331.2h3" stroke="#7a7a7a" stroke-width="1.2"/><path d="M665.0 1380.5h-3M638.8 1380.5h3" stroke="#7a7a7a" stroke-width="1.2"/><path d="M665.0 1429.9h-3M638.8 1429.9h3" stroke="#7a7a7a" stroke-width="1.2"/><path d="M665.0 1479.2h-3M638.8 1479.2h3" stroke="#7a7a7a" stroke-width="1.2"/>
<path d="M466.3 805.5V1490" stroke="#000" stroke-width="4.8" stroke-dasharray="19.5 15.25" fill="none"/><path d="M463.5 1500H469.5" stroke="#333" stroke-width="1.6"/><path d="M113.3 893.6H620.6" stroke="#000" stroke-width="4.8" stroke-dasharray="4.4 5.3" fill="none"/>
<path d="M1077.9 88.1V663.1M1113.5 88.1V663.1M1149.2 88.1V663.1M1184.8 88.1V663.1M1220.4 88.1V663.1M1256.0 88.1V663.1M1291.6 88.1V663.1M1327.3 88.1V663.1M1362.9 88.1V663.1M1398.5 88.1V663.1M1434.1 88.1V663.1M1469.7 88.1V663.1M1505.4 88.1V663.1M1541.0 88.1V663.1M1042.3 634.4H1576.6M1042.3 605.6H1576.6M1042.3 576.9H1576.6M1042.3 548.1H1576.6M1042.3 519.4H1576.6M1042.3 490.6H1576.6M1042.3 461.9H1576.6M1042.3 433.1H1576.6M1042.3 404.4H1576.6M1042.3 375.6H1576.6M1042.3 346.9H1576.6M1042.3 318.1H1576.6M1042.3 289.4H1576.6M1042.3 260.6H1576.6M1042.3 231.9H1576.6M1042.3 203.1H1576.6M1042.3 174.3H1576.6M1042.3 145.6H1576.6M1042.3 116.9H1576.6" stroke="#d6d6d6" stroke-width="1.1" stroke-dasharray="1.6 2.4" fill="none"/><rect x="1243" y="89.1" width="313" height="74.3" fill="#fff"/><rect x="1042.3" y="88.1" width="534.3" height="575.0" fill="none" stroke="#8a8a8a" stroke-width="1.4"/><path d="M1220.4 88.1v6M1220.4 663.1v-6M1398.5 88.1v6M1398.5 663.1v-6M1042.3 519.4h6M1576.6 519.4h-6M1042.3 375.6h6M1576.6 375.6h-6M1042.3 231.9h6M1576.6 231.9h-6" stroke="#8a8a8a" stroke-width="1.4"/><path d="M1309.4 163.4V663.1" stroke="#000" stroke-width="1.3" stroke-dasharray="1.5 1.5"/><path d="M1042.3 311.9 L1045.6 308.6 L1048.2 309.4 L1050.7 322.6 L1053.8 326.4 L1056.9 317.0 L1060.1 327.6 L1063.2 335.1 L1065.7 340.2 L1068.8 343.3 L1072.0 339.9 L1075.1 346.4 L1080.1 345.2 L1083.9 348.3 L1087.6 352.7 L1090.2 357.7 L1092.7 367.1 L1097.7 374.6 L1101.4 380.3 L1104.2 387.2 L1107.7 386.6 L1110.2 388.4 L1114.0 383.4 L1116.5 384.0 L1119.6 387.8 L1122.1 382.8 L1124.6 392.8 L1127.8 405.4 L1131.5 404.7 L1134.0 406.6 L1137.2 412.3 L1140.3 420.4 L1143.4 424.2 L1146.6 423.5 L1149.7 421.7 L1152.2 412.3 L1154.7 406.6 L1157.9 408.5 L1161.0 413.5 L1164.1 412.9 L1169.8 406.0 L1172.9 412.3 L1176.1 414.8 L1178.6 422.9 L1180.8 433.1 L1184.6 437.0 L1190.0 458.5 L1193.9 466.2 L1199.3 487.8 L1206.2 507.8 L1208.5 521.7 L1214.7 535.6 L1217.8 547.1 L1220.8 552.5 L1223.9 566.4 L1227.0 574.1 L1229.3 577.2 L1231.6 587.2 L1235.5 592.6 L1240.9 604.9 L1244.7 607.2 L1247.0 611.8 L1250.9 615.7 L1254.0 617.2 L1256.0 619.5 L1258.6 616.0 L1264.0 616.0 L1267.1 611.8 L1271.7 597.2 L1276.3 585.6 L1279.4 571.0 L1284.0 554.0 L1288.6 538.6 L1291.7 524.8 L1294.8 506.3 L1298.7 489.3 L1302.5 470.8 L1305.6 444.7 L1307.9 437.0 L1311.0 430.0 L1313.2 426.6 L1317.6 407.3 L1321.9 398.5 L1325.5 382.7 L1329.0 366.9 L1332.5 349.4 L1336.9 333.6 L1341.3 324.8 L1345.6 325.7 L1350.0 312.5 L1353.5 302.9 L1358.8 305.8 L1363.2 301.1 L1367.6 300.2 L1372.0 295.8 L1377.2 289.7 L1381.6 292.3 L1386.9 287.1 L1389.5 277.4 L1393.9 275.6 L1398.3 270.4 L1403.6 262.5 L1407.1 260.7 L1413.2 254.2 L1419.4 259.0 L1422.9 266.9 L1427.3 260.7 L1431.7 261.6 L1437.8 258.4 L1441.3 258.4 L1445.7 256.0 L1451.0 266.0 L1454.5 267.7 L1458.9 277.4 L1464.2 287.9 L1468.5 297.6 L1473.8 303.7 L1476.4 309.0 L1479.9 305.8 L1486.1 316.9 L1491.4 324.8 L1494.0 326.6 L1499.3 334.5 L1503.7 347.6 L1508.0 356.4 L1512.4 361.7 L1517.7 367.8 L1522.1 366.1 L1526.5 368.7 L1530.9 366.1 L1536.1 374.8 L1537.9 374.8 L1542.3 368.7 L1546.7 374.3 L1551.0 368.7 L1556.3 366.1 L1562.5 356.4 L1568.6 360.8 L1573.0 360.3 L1576.5 362.5" stroke="#000" stroke-width="2.7" fill="none" stroke-linejoin="round" stroke-linecap="round"/><path d="M1257.4 663.0L1362.0 217.0" stroke="#ff0000" stroke-width="2.8" stroke-dasharray="12.5 7.5" fill="none"/><path d="M1297.9 125.9H1324.6M1344.0 125.9H1367.5" stroke="#ff0000" stroke-width="6.4"/><path d="M1077.9 931.9V1507.3M1113.5 931.9V1507.3M1149.2 931.9V1507.3M1184.8 931.9V1507.3M1220.4 931.9V1507.3M1256.0 931.9V1507.3M1291.6 931.9V1507.3M1327.3 931.9V1507.3M1362.9 931.9V1507.3M1398.5 931.9V1507.3M1434.1 931.9V1507.3M1469.7 931.9V1507.3M1505.4 931.9V1507.3M1541.0 931.9V1507.3M1042.3 1478.5H1576.6M1042.3 1449.8H1576.6M1042.3 1421.0H1576.6M1042.3 1392.2H1576.6M1042.3 1363.4H1576.6M1042.3 1334.7H1576.6M1042.3 1305.9H1576.6M1042.3 1277.1H1576.6M1042.3 1248.4H1576.6M1042.3 1219.6H1576.6M1042.3 1190.8H1576.6M1042.3 1162.1H1576.6M1042.3 1133.3H1576.6M1042.3 1104.5H1576.6M1042.3 1075.8H1576.6M1042.3 1047.0H1576.6M1042.3 1018.2H1576.6M1042.3 989.4H1576.6M1042.3 960.7H1576.6" stroke="#d6d6d6" stroke-width="1.1" stroke-dasharray="1.6 2.4" fill="none"/><rect x="1243" y="932.9" width="313" height="74.3" fill="#fff"/><rect x="1042.3" y="931.9" width="534.3" height="575.4" fill="none" stroke="#8a8a8a" stroke-width="1.4"/><path d="M1220.4 931.9v6M1220.4 1507.3v-6M1398.5 931.9v6M1398.5 1507.3v-6M1042.3 1363.4h6M1576.6 1363.4h-6M1042.3 1219.6h6M1576.6 1219.6h-6M1042.3 1075.8h6M1576.6 1075.8h-6" stroke="#8a8a8a" stroke-width="1.4"/><path d="M1309.4 1007.2V1507.3" stroke="#000" stroke-width="1.3" stroke-dasharray="1.5 1.5"/><path d="M1042.3 1291.7 L1046.8 1292.8 L1051.4 1290.1 L1059.4 1292.4 L1065.1 1289.4 L1070.8 1286.0 L1076.5 1275.7 L1083.4 1271.2 L1089.1 1259.8 L1093.6 1256.3 L1098.2 1246.1 L1106.2 1235.8 L1113.0 1221.0 L1118.7 1206.1 L1125.6 1193.6 L1131.3 1178.7 L1138.1 1157.1 L1145.0 1125.1 L1151.8 1101.2 L1157.5 1073.8 L1163.2 1046.4 L1170.1 1028.1 L1178.1 1005.3 L1186.1 989.3 L1192.9 977.9 L1200.9 970.6 L1210.0 956.2 L1219.1 951.0 L1224.8 955.1 L1231.7 975.6 L1238.5 998.5 L1243.1 1025.8 L1248.8 1057.8 L1253.4 1082.9 L1259.1 1108.0 L1264.8 1137.7 L1270.5 1167.3 L1277.3 1194.7 L1284.2 1219.8 L1291.0 1236.9 L1297.9 1248.3 L1300.0 1251.6 L1304.7 1263.2 L1308.6 1273.6 L1315.3 1284.1 L1321.0 1291.7 L1324.8 1296.5 L1331.5 1301.3 L1339.2 1307.0 L1342.0 1310.9 L1344.9 1310.5 L1348.7 1316.6 L1355.4 1324.2 L1361.2 1333.8 L1367.9 1345.3 L1375.5 1358.6 L1382.2 1377.8 L1387.9 1396.9 L1392.7 1412.2 L1397.5 1416.0 L1401.3 1418.8 L1406.1 1428.4 L1410.9 1442.7 L1416.6 1456.1 L1423.3 1475.2 L1428.1 1481.9 L1433.8 1485.7 L1439.5 1481.0 L1442.4 1482.9 L1445.3 1481.0 L1449.1 1480.0 L1452.0 1471.4 L1457.7 1460.9 L1462.5 1446.6 L1468.2 1435.1 L1473.9 1419.8 L1478.7 1404.5 L1483.5 1387.3 L1488.3 1368.2 L1492.1 1349.1 L1495.9 1337.6 L1501.6 1318.5 L1505.5 1307.0 L1511.2 1289.8 L1516.0 1282.2 L1522.7 1272.6 L1531.3 1265.0 L1535.1 1257.3 L1539.9 1250.1 L1544.6 1250.6 L1554.2 1251.6 L1558.0 1245.9 L1561.9 1242.0 L1564.7 1234.4 L1569.5 1227.7 L1575.2 1224.8" stroke="#000" stroke-width="2.7" fill="none" stroke-linejoin="round" stroke-linecap="round"/><path d="M1237.4 1115.3L1362.8 1384.2" stroke="#ff0000" stroke-width="2.8" stroke-dasharray="12.5 7.5" fill="none"/><path d="M1302.1 969.7H1328.8M1348.2 969.7H1371.7" stroke="#ff0000" stroke-width="6.4"/>
<text transform="translate(100.5,27.0) scale(0.965,1)" font-size="41" text-anchor="end" >20</text><text transform="translate(100.5,86.8) scale(0.965,1)" font-size="41" text-anchor="end" >10</text><text transform="translate(100.5,146.6) scale(0.965,1)" font-size="41" text-anchor="end" >0</text><text transform="translate(100.5,206.4) scale(0.965,1)" font-size="41" text-anchor="end" >-10</text><text transform="translate(112.3,239.7) scale(0.95,1)" font-size="42" text-anchor="middle" >-200</text><text transform="translate(238.0,239.7) scale(0.95,1)" font-size="42" text-anchor="middle" >-150</text><text transform="translate(363.6,239.7) scale(0.95,1)" font-size="42" text-anchor="middle" >-100</text><text transform="translate(489.3,239.7) scale(0.95,1)" font-size="42" text-anchor="middle" >-50</text><text transform="translate(615.0,239.7) scale(0.95,1)" font-size="42" text-anchor="middle" >0</text><text transform="translate(28.3,109.2) rotate(-90) scale(1.08,1)" font-size="39" text-anchor="middle">y [<tspan font-style="italic">μ</tspan>m]</text><text transform="translate(100.5,293.4) scale(0.965,1)" font-size="41" text-anchor="end" >20</text><text transform="translate(100.5,352.6) scale(0.965,1)" font-size="41" text-anchor="end" >10</text><text transform="translate(100.5,411.7) scale(0.965,1)" font-size="41" text-anchor="end" >0</text><text transform="translate(100.5,470.9) scale(0.965,1)" font-size="41" text-anchor="end" >-10</text><text transform="translate(112.3,504.2) scale(0.95,1)" font-size="42" text-anchor="middle" >-200</text><text transform="translate(238.0,504.2) scale(0.95,1)" font-size="42" text-anchor="middle" >-150</text><text transform="translate(363.6,504.2) scale(0.95,1)" font-size="42" text-anchor="middle" >-100</text><text transform="translate(489.3,504.2) scale(0.95,1)" font-size="42" text-anchor="middle" >-50</text><text transform="translate(615.0,504.2) scale(0.95,1)" font-size="42" text-anchor="middle" >0</text><text transform="translate(28.3,368.6) rotate(-90) scale(1.08,1)" font-size="39" text-anchor="middle">y [<tspan font-style="italic">μ</tspan>m]</text><text transform="translate(100.5,558.2) scale(0.965,1)" font-size="41" text-anchor="end" >20</text><text transform="translate(100.5,617.5) scale(0.965,1)" font-size="41" text-anchor="end" >10</text><text transform="translate(100.5,676.8) scale(0.965,1)" font-size="41" text-anchor="end" >0</text><text transform="translate(100.5,736.1) scale(0.965,1)" font-size="41" text-anchor="end" >-10</text><text transform="translate(112.3,769.4) scale(0.95,1)" font-size="42" text-anchor="middle" >-200</text><text transform="translate(238.0,769.4) scale(0.95,1)" font-size="42" text-anchor="middle" >-150</text><text transform="translate(363.6,769.4) scale(0.95,1)" font-size="42" text-anchor="middle" >-100</text><text transform="translate(489.3,769.4) scale(0.95,1)" font-size="42" text-anchor="middle" >-50</text><text transform="translate(615.0,769.4) scale(0.95,1)" font-size="42" text-anchor="middle" >0</text><text transform="translate(28.3,616.7) rotate(-90) scale(1.08,1)" font-size="39" text-anchor="middle">y [<tspan font-style="italic">μ</tspan>m]</text><text transform="translate(100.5,819.0) scale(0.965,1)" font-size="41" text-anchor="end" >20</text><text transform="translate(100.5,878.0) scale(0.965,1)" font-size="41" text-anchor="end" >10</text><text transform="translate(100.5,937.1) scale(0.965,1)" font-size="41" text-anchor="end" >0</text><text transform="translate(100.5,996.1) scale(0.965,1)" font-size="41" text-anchor="end" >-10</text><text transform="translate(112.3,1029.4) scale(0.95,1)" font-size="42" text-anchor="middle" >-200</text><text transform="translate(238.0,1029.4) scale(0.95,1)" font-size="42" text-anchor="middle" >-150</text><text transform="translate(363.6,1029.4) scale(0.95,1)" font-size="42" text-anchor="middle" >-100</text><text transform="translate(489.3,1029.4) scale(0.95,1)" font-size="42" text-anchor="middle" >-50</text><text transform="translate(615.0,1029.4) scale(0.95,1)" font-size="42" text-anchor="middle" >0</text><text transform="translate(28.3,882.6) rotate(-90) scale(1.08,1)" font-size="39" text-anchor="middle">y [<tspan font-style="italic">μ</tspan>m]</text><text transform="translate(100.5,1079.1) scale(0.965,1)" font-size="41" text-anchor="end" >20</text><text transform="translate(100.5,1138.3) scale(0.965,1)" font-size="41" text-anchor="end" >10</text><text transform="translate(100.5,1197.4) scale(0.965,1)" font-size="41" text-anchor="end" >0</text><text transform="translate(100.5,1256.6) scale(0.965,1)" font-size="41" text-anchor="end" >-10</text><text transform="translate(112.3,1289.9) scale(0.95,1)" font-size="42" text-anchor="middle" >-200</text><text transform="translate(238.0,1289.9) scale(0.95,1)" font-size="42" text-anchor="middle" >-150</text><text transform="translate(363.6,1289.9) scale(0.95,1)" font-size="42" text-anchor="middle" >-100</text><text transform="translate(489.3,1289.9) scale(0.95,1)" font-size="42" text-anchor="middle" >-50</text><text transform="translate(615.0,1289.9) scale(0.95,1)" font-size="42" text-anchor="middle" >0</text><text transform="translate(28.3,1146.5) rotate(-90) scale(1.08,1)" font-size="39" text-anchor="middle">y [<tspan font-style="italic">μ</tspan>m]</text><text transform="translate(100.5,1346.4) scale(0.965,1)" font-size="41" text-anchor="end" >20</text><text transform="translate(100.5,1405.9) scale(0.965,1)" font-size="41" text-anchor="end" >10</text><text transform="translate(100.5,1465.5) scale(0.965,1)" font-size="41" text-anchor="end" >0</text><text transform="translate(100.5,1525.0) scale(0.965,1)" font-size="41" text-anchor="end" >-10</text><text transform="translate(112.3,1558.3) scale(0.95,1)" font-size="42" text-anchor="middle" >-200</text><text transform="translate(238.0,1558.3) scale(0.95,1)" font-size="42" text-anchor="middle" >-150</text><text transform="translate(363.6,1558.3) scale(0.95,1)" font-size="42" text-anchor="middle" >-100</text><text transform="translate(489.3,1558.3) scale(0.95,1)" font-size="42" text-anchor="middle" >-50</text><text transform="translate(615.0,1558.3) scale(0.95,1)" font-size="42" text-anchor="middle" >0</text><text transform="translate(28.3,1413.7) rotate(-90) scale(1.08,1)" font-size="39" text-anchor="middle">y [<tspan font-style="italic">μ</tspan>m]</text><text transform="translate(361.0,1614.0) scale(1.07,1)" font-size="39" text-anchor="middle" >x [<tspan font-style="italic">μ</tspan>m]</text><text transform="translate(677.5,24.3) scale(0.965,1)" font-size="35.8" text-anchor="start" >1</text><text transform="translate(677.5,114.0) scale(0.965,1)" font-size="35.8" text-anchor="start" >0.5</text><text transform="translate(677.5,203.7) scale(0.965,1)" font-size="35.8" text-anchor="start" >0</text><text transform="translate(677.5,290.7) scale(0.965,1)" font-size="35.8" text-anchor="start" >0.02</text><text transform="translate(677.5,379.4) scale(0.965,1)" font-size="35.8" text-anchor="start" >0.01</text><text transform="translate(677.5,468.2) scale(0.965,1)" font-size="35.8" text-anchor="start" >0</text><text transform="translate(677.5,555.5) scale(0.965,1)" font-size="35.8" text-anchor="start" >0.01</text><text transform="translate(677.5,644.5) scale(0.965,1)" font-size="35.8" text-anchor="start" >0</text><text transform="translate(677.5,733.4) scale(0.965,1)" font-size="35.8" text-anchor="start" >-0.01</text><text transform="translate(677.5,835.2) scale(0.965,1)" font-size="35.8" text-anchor="start" >0.02</text><text transform="translate(677.5,904.8) scale(0.965,1)" font-size="35.8" text-anchor="start" >0</text><text transform="translate(677.5,978.3) scale(0.965,1)" font-size="35.8" text-anchor="start" >-0.02</text><text transform="translate(677.5,1097.7) scale(0.965,1)" font-size="35.8" text-anchor="start" >0.02</text><text transform="translate(677.5,1165.2) scale(0.965,1)" font-size="35.8" text-anchor="start" >0</text><text transform="translate(677.5,1236.2) scale(0.965,1)" font-size="35.8" text-anchor="start" >-0.02</text><text transform="translate(677.5,1343.7) scale(0.965,1)" font-size="35.8" text-anchor="start" >200</text><text transform="translate(677.5,1393.0) scale(0.965,1)" font-size="35.8" text-anchor="start" >150</text><text transform="translate(677.5,1442.4) scale(0.965,1)" font-size="35.8" text-anchor="start" >100</text><text transform="translate(677.5,1491.7) scale(0.965,1)" font-size="35.8" text-anchor="start" >50</text><text transform="translate(795.5,104.4) rotate(-90) scale(1.106,1)" font-size="39" text-anchor="middle">E<tspan font-size="28" dy="9">y</tspan><tspan font-size="28" dx="-14" dy="-25">2</tspan><tspan dy="16"> [</tspan><tspan font-style="italic">E</tspan><tspan font-size="28" dy="9">0</tspan><tspan font-size="28" dx="-14" dy="-25">2</tspan><tspan dy="16">]</tspan></text><text transform="translate(796.5,370.5) rotate(-90) scale(1.169,1)" font-size="39" text-anchor="middle">⟨n<tspan font-size="28" dy="9">e</tspan><tspan dy="-9">⟩ [n</tspan><tspan font-size="28" dy="9">crit</tspan><tspan dy="-9">]</tspan></text><text transform="translate(796,624.8) rotate(-90) scale(1.04,1)" font-size="39" text-anchor="middle">⟨E<tspan font-size="28" dy="9">x</tspan><tspan dy="-9">⟩ [E</tspan><tspan font-size="28" dy="9">0</tspan><tspan dy="-9">]</tspan></text><text transform="translate(796,883.5) rotate(-90) scale(1.07,1)" font-size="39" text-anchor="middle">⟨E<tspan font-size="28" dy="9">y</tspan><tspan dy="-9">⟩ [E</tspan><tspan font-size="28" dy="9">0</tspan><tspan dy="-9">]</tspan></text><text transform="translate(796.5,1150.4) rotate(-90) scale(1.057,1)" font-size="39" text-anchor="middle">⟨B<tspan font-size="28" dy="9">z</tspan><tspan dy="-9">⟩ [B</tspan><tspan font-size="28" dy="9">0</tspan><tspan dy="-9">]</tspan></text><text transform="translate(796.5,1414.7) rotate(-90) scale(1.033,1)" font-size="39" text-anchor="middle">Energy [MeV]</text><text transform="translate(1391,146.7) scale(1.09,1)" font-size="37">Δ<tspan font-size="42" dy="2">⟨</tspan><tspan dy="-2">E</tspan><tspan font-size="27" dy="8">y</tspan><tspan font-size="42" dy="-6">⟩</tspan><tspan dy="-2">/Δy</tspan></text><text transform="translate(1032.3,102.6) scale(0.977,1)" font-size="39" text-anchor="end" >0.02</text><text transform="translate(1032.3,246.4) scale(0.977,1)" font-size="39" text-anchor="end" >0.01</text><text transform="translate(1032.3,390.1) scale(0.977,1)" font-size="39" text-anchor="end" >0</text><text transform="translate(1032.3,533.9) scale(0.977,1)" font-size="39" text-anchor="end" >-0.01</text><text transform="translate(1032.3,677.6) scale(0.977,1)" font-size="39" text-anchor="end" >-0.02</text><text transform="translate(1042.3,707.6) scale(0.97,1)" font-size="39" text-anchor="middle" >-10</text><text transform="translate(1220.4,707.6) scale(0.97,1)" font-size="39" text-anchor="middle" >0</text><text transform="translate(1398.5,707.6) scale(0.97,1)" font-size="39" text-anchor="middle" >10</text><text transform="translate(1576.6,707.6) scale(0.97,1)" font-size="39" text-anchor="middle" >20</text><text transform="translate(1302.5,766.1) scale(1.08,1)" font-size="39" text-anchor="middle" >y [<tspan font-style="italic">μ</tspan>m]</text><text transform="translate(1391,990.5) scale(1.09,1)" font-size="37">Δ<tspan font-size="42" dy="2">⟨</tspan><tspan dy="-2">B</tspan><tspan font-size="27" dy="8">z</tspan><tspan font-size="42" dy="-6">⟩</tspan><tspan dy="-2">/Δy</tspan></text><text transform="translate(1032.3,946.4) scale(0.977,1)" font-size="39" text-anchor="end" >0.02</text><text transform="translate(1032.3,1090.2) scale(0.977,1)" font-size="39" text-anchor="end" >0.01</text><text transform="translate(1032.3,1234.1) scale(0.977,1)" font-size="39" text-anchor="end" >0</text><text transform="translate(1032.3,1377.9) scale(0.977,1)" font-size="39" text-anchor="end" >-0.01</text><text transform="translate(1032.3,1521.8) scale(0.977,1)" font-size="39" text-anchor="end" >-0.02</text><text transform="translate(1042.3,1551.8) scale(0.97,1)" font-size="39" text-anchor="middle" >-10</text><text transform="translate(1220.4,1551.8) scale(0.97,1)" font-size="39" text-anchor="middle" >0</text><text transform="translate(1398.5,1551.8) scale(0.97,1)" font-size="39" text-anchor="middle" >10</text><text transform="translate(1576.6,1551.8) scale(0.97,1)" font-size="39" text-anchor="middle" >20</text><text transform="translate(1302.5,1610.3) scale(1.08,1)" font-size="39" text-anchor="middle" >y [<tspan font-style="italic">μ</tspan>m]</text><text transform="translate(931,380.6) rotate(-90) scale(1.05,1)" font-size="39" text-anchor="middle">⟨E<tspan font-size="28" dy="9">y</tspan><tspan dy="-9">⟩ [E</tspan><tspan font-size="28" dy="9">0</tspan><tspan dy="-9">]</tspan></text><text transform="translate(929,1223.2) rotate(-90) scale(1.045,1)" font-size="39" text-anchor="middle">⟨B<tspan font-size="28" dy="9">z</tspan><tspan dy="-9">⟩ [B</tspan><tspan font-size="28" dy="9">0</tspan><tspan dy="-9">]</tspan></text><text x="1057" y="127" font-size="39">g)</text><text x="1058" y="981.3" font-size="39" font-weight="bold">h)</text>
<text x="125" y="60.5" font-size="39" font-weight="bold">a)</text><text x="126" y="325" font-size="39" font-weight="bold">b)</text><text x="124" y="590" font-size="39" font-weight="bold">c)</text><text x="124" y="848.5" font-size="39" font-weight="bold">d)</text><text x="124.5" y="1107.5" font-size="39" font-weight="bold">e)</text><text x="124" y="1370.5" font-size="39" font-weight="bold">f)</text>
</svg>
</body></html>
